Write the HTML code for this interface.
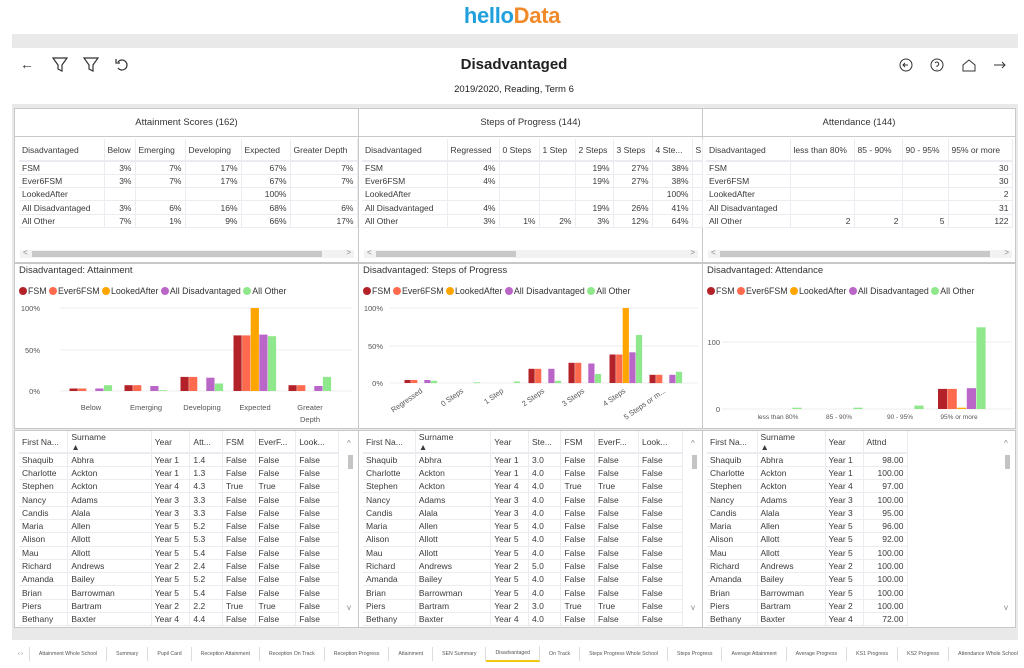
<!DOCTYPE html>
<html><head><meta charset="utf-8">
<style>
*{margin:0;padding:0;box-sizing:border-box}
body{width:1024px;height:668px;background:#fff;font-family:"Liberation Sans",sans-serif;color:#333;position:relative;overflow:hidden}
.abs{position:absolute}
.panel{position:absolute;background:#fff;border:1px solid #c8c8c8}
table{border-collapse:collapse;table-layout:fixed;font-size:8.5px;color:#3a3a3a}
td{height:13.3px;padding:0 3px;white-space:nowrap;overflow:hidden;border-bottom:1px solid #ebebf1;border-right:1px solid #ebebf1}
td.r{text-align:right}
tr.h td{height:22px;border-bottom:2px solid #ebebf1}
.sb{position:absolute;height:8px;background:#f2f2f2}
.sb div{position:absolute;top:1px;height:6px;background:#c8c8c8}
.sb span{position:absolute;top:-2px;font-size:8px;color:#888}
.ct{font-size:9.5px;color:#333}
.lg{font-size:8.8px;color:#333;white-space:nowrap}
.lg i{display:inline-block;width:8px;height:8px;border-radius:50%;margin:0 1px -1px 0}
.tabs{position:absolute;left:12px;top:646px;width:1006px;height:16px;display:flex;font-size:5.2px;color:#555;align-items:center;white-space:nowrap;overflow:hidden}
.tabs span{padding:0 9px;border-right:1px solid #ddd;line-height:14px}
.arr{position:absolute;font-size:8px;color:#888}
</style></head><body>
<div class="abs" style="left:0;top:3px;width:1024px;text-align:center;font-size:22px;font-weight:bold;letter-spacing:-0.3px"><span style="color:#1fa0dd">hello</span><span style="color:#f08a2a">Data</span></div>
<div class="abs" style="left:12px;top:34px;width:1006px;height:606px;background:#e9e9e9"></div>
<div class="abs" style="left:12px;top:48px;width:1006px;height:56px;background:#fff"></div>
<div class="abs" style="left:20px;top:56px;font-size:14px">&#8592;</div>
<svg class="abs" style="left:50px;top:56px" width="100" height="18"><g fill="none" stroke="#333" stroke-width="1.2"><path d="M3 2h14l-5 7v6l-4-2v-4z"/><path d="M34 2h14l-5 7v6l-4-2v-4z"/><path d="M68 6a5 5 0 1 1 0 6" /><path d="M66 3v4h4"/></g></svg>
<div class="abs" style="left:0;top:56px;width:1028px;text-align:center;font-size:15px;font-weight:bold;color:#222">Disadvantaged</div>
<div class="abs" style="left:0;top:84px;width:1028px;text-align:center;font-size:9.5px;color:#222">2019/2020, Reading, Term 6</div>
<svg class="abs" style="left:895px;top:56px" width="120" height="18"><g fill="none" stroke="#333" stroke-width="1"><circle cx="11" cy="9" r="6"/><path d="M13 9h-5m2-2-2 2 2 2"/><circle cx="42" cy="9" r="6"/><path d="M40 7a2 2 0 1 1 2 3v1m0 2v.5"/><path d="M68 9l6-5 6 5v6h-12z"/><path d="M99 9h11m-3-3 3 3-3 3"/></g></svg>

<!-- top panels -->
<div class="panel" style="left:14px;top:108px;width:345px;height:155px"></div>
<div class="panel" style="left:358px;top:108px;width:345px;height:155px"></div>
<div class="panel" style="left:702px;top:108px;width:314px;height:155px"></div>
<div class="abs" style="left:14px;top:136px;width:1002px;height:1px;background:#c8c8c8"></div>
<div class="abs ct" style="left:14px;top:117px;width:345px;text-align:center">Attainment Scores (162)</div>
<div class="abs ct" style="left:358px;top:117px;width:345px;text-align:center">Steps of Progress (144)</div>
<div class="abs ct" style="left:702px;top:117px;width:314px;text-align:center">Attendance (144)</div>

<table class="abs" style="left:19px;top:139px;width:338px">
<colgroup><col style="width:85px"><col style="width:31px"><col style="width:50px"><col style="width:56px"><col style="width:49px"><col style="width:67px"></colgroup>
<tr class="h"><td>Disadvantaged</td><td>Below</td><td>Emerging</td><td>Developing</td><td>Expected</td><td>Greater Depth</td></tr>
<tr><td>FSM</td><td class="r">3%</td><td class="r">7%</td><td class="r">17%</td><td class="r">67%</td><td class="r">7%</td></tr>
<tr><td>Ever6FSM</td><td class="r">3%</td><td class="r">7%</td><td class="r">17%</td><td class="r">67%</td><td class="r">7%</td></tr>
<tr><td>LookedAfter</td><td></td><td></td><td></td><td class="r">100%</td><td></td></tr>
<tr><td>All Disadvantaged</td><td class="r">3%</td><td class="r">6%</td><td class="r">16%</td><td class="r">68%</td><td class="r">6%</td></tr>
<tr><td>All Other</td><td class="r">7%</td><td class="r">1%</td><td class="r">9%</td><td class="r">66%</td><td class="r">17%</td></tr>
</table>
<div class="sb" style="left:20px;top:250px;width:334px"><span style="left:3px">&lt;</span><div style="left:12px;width:290px"></div><span style="right:3px">&gt;</span></div>

<table class="abs" style="left:362px;top:139px;width:340px">
<colgroup><col style="width:85px"><col style="width:52px"><col style="width:40px"><col style="width:36px"><col style="width:38px"><col style="width:39px"><col style="width:40px"><col style="width:10px"></colgroup>
<tr class="h"><td>Disadvantaged</td><td>Regressed</td><td>0 Steps</td><td>1 Step</td><td>2 Steps</td><td>3 Steps</td><td>4 Ste...</td><td>S</td></tr>
<tr><td>FSM</td><td class="r">4%</td><td></td><td></td><td class="r">19%</td><td class="r">27%</td><td class="r">38%</td><td></td></tr>
<tr><td>Ever6FSM</td><td class="r">4%</td><td></td><td></td><td class="r">19%</td><td class="r">27%</td><td class="r">38%</td><td></td></tr>
<tr><td>LookedAfter</td><td></td><td></td><td></td><td></td><td></td><td class="r">100%</td><td></td></tr>
<tr><td>All Disadvantaged</td><td class="r">4%</td><td></td><td></td><td class="r">19%</td><td class="r">26%</td><td class="r">41%</td><td></td></tr>
<tr><td>All Other</td><td class="r">3%</td><td class="r">1%</td><td class="r">2%</td><td class="r">3%</td><td class="r">12%</td><td class="r">64%</td><td></td></tr>
</table>
<div class="sb" style="left:364px;top:250px;width:334px"><span style="left:3px">&lt;</span><div style="left:12px;width:140px"></div><span style="right:3px">&gt;</span></div>

<table class="abs" style="left:706px;top:139px;width:306px">
<colgroup><col style="width:84px"><col style="width:64px"><col style="width:48px"><col style="width:46px"><col style="width:64px"></colgroup>
<tr class="h"><td>Disadvantaged</td><td>less than 80%</td><td>85 - 90%</td><td>90 - 95%</td><td>95% or more</td></tr>
<tr><td>FSM</td><td></td><td></td><td></td><td class="r">30</td></tr>
<tr><td>Ever6FSM</td><td></td><td></td><td></td><td class="r">30</td></tr>
<tr><td>LookedAfter</td><td></td><td></td><td></td><td class="r">2</td></tr>
<tr><td>All Disadvantaged</td><td></td><td></td><td></td><td class="r">31</td></tr>
<tr><td>All Other</td><td class="r">2</td><td class="r">2</td><td class="r">5</td><td class="r">122</td></tr>
</table>
<div class="sb" style="left:708px;top:250px;width:304px"><span style="left:3px">&lt;</span><div style="left:12px;width:270px"></div><span style="right:3px">&gt;</span></div>

<!-- charts -->
<div class="panel" style="left:14px;top:263px;width:345px;height:166px"></div>
<div class="panel" style="left:358px;top:263px;width:345px;height:166px"></div>
<div class="panel" style="left:702px;top:263px;width:314px;height:166px"></div>
<div class="abs ct" style="left:19px;top:265px">Disadvantaged: Attainment</div>
<div class="abs ct" style="left:363px;top:265px">Disadvantaged: Steps of Progress</div>
<div class="abs ct" style="left:707px;top:265px">Disadvantaged: Attendance</div>
<div class="abs lg" style="left:19px;top:286px"><i style="background:#b22228"></i>FSM <i style="background:#fe6a4e"></i>Ever6FSM <i style="background:#ffa500"></i>LookedAfter <i style="background:#ba66c8"></i>All Disadvantaged <i style="background:#8fe88c"></i>All Other</div>
<div class="abs lg" style="left:363px;top:286px"><i style="background:#b22228"></i>FSM <i style="background:#fe6a4e"></i>Ever6FSM <i style="background:#ffa500"></i>LookedAfter <i style="background:#ba66c8"></i>All Disadvantaged <i style="background:#8fe88c"></i>All Other</div>
<div class="abs lg" style="left:707px;top:286px"><i style="background:#b22228"></i>FSM <i style="background:#fe6a4e"></i>Ever6FSM <i style="background:#ffa500"></i>LookedAfter <i style="background:#ba66c8"></i>All Disadvantaged <i style="background:#8fe88c"></i>All Other</div>

<svg id="ch" class="abs" style="left:0;top:0" width="1024" height="668" font-family="Liberation Sans, sans-serif" font-size="7.5" fill="#555">
<g stroke="#ececec"><line x1="60" y1="308" x2="352" y2="308"/><line x1="60" y1="350" x2="352" y2="350"/><line x1="60" y1="391" x2="352" y2="391"/>
<line x1="390" y1="308" x2="698" y2="308"/><line x1="390" y1="346" x2="698" y2="346"/><line x1="390" y1="383" x2="698" y2="383"/>
<line x1="722" y1="342" x2="1012" y2="342"/><line x1="722" y1="409" x2="1012" y2="409"/></g>
<text x="40" y="311" text-anchor="end">100%</text><text x="40" y="353" text-anchor="end">50%</text><text x="40" y="394" text-anchor="end">0%</text>
<text x="91" y="410" text-anchor="middle">Below</text><text x="146" y="410" text-anchor="middle">Emerging</text><text x="202" y="410" text-anchor="middle">Developing</text><text x="255" y="410" text-anchor="middle">Expected</text><text x="310" y="410" text-anchor="middle">Greater</text><text x="310" y="422" text-anchor="middle">Depth</text>
<text x="383" y="311" text-anchor="end">100%</text><text x="383" y="349" text-anchor="end">50%</text><text x="383" y="386" text-anchor="end">0%</text>
<g text-anchor="end">
<text transform="translate(423,392) rotate(-35)">Regressed</text>
<text transform="translate(464,392) rotate(-35)">0 Steps</text>
<text transform="translate(504,392) rotate(-35)">1 Step</text>
<text transform="translate(545,392) rotate(-35)">2 Steps</text>
<text transform="translate(585,392) rotate(-35)">3 Steps</text>
<text transform="translate(626,392) rotate(-35)">4 Steps</text>
<text transform="translate(666,392) rotate(-35)">5 Steps or m...</text></g>
<text x="720" y="345" text-anchor="end">100</text><text x="720" y="412" text-anchor="end">0</text>
<g font-size="6.5"><text x="778" y="419" text-anchor="middle">less than 80%</text><text x="839" y="419" text-anchor="middle">85 - 90%</text><text x="900" y="419" text-anchor="middle">90 - 95%</text><text x="959" y="419" text-anchor="middle">95% or more</text></g>
<g id="bars"></g>
</svg>

<!-- bottom tables -->
<div class="panel" style="left:14px;top:430px;width:345px;height:198px;overflow:hidden">
<table style="position:absolute;left:4px;top:0;width:320px">
<colgroup><col style="width:48px"><col style="width:82px"><col style="width:38px"><col style="width:32px"><col style="width:32px"><col style="width:40px"><col style="width:42px"></colgroup>
<tr class="h"><td>First Na...</td><td>Surname<br>&#9650;</td><td>Year</td><td>Att...</td><td>FSM</td><td>EverF...</td><td>Look...</td></tr>
<tr><td>Shaquib</td><td>Abhra</td><td>Year 1</td><td>1.4</td><td>False</td><td>False</td><td>False</td></tr>
<tr><td>Charlotte</td><td>Ackton</td><td>Year 1</td><td>1.3</td><td>False</td><td>False</td><td>False</td></tr>
<tr><td>Stephen</td><td>Ackton</td><td>Year 4</td><td>4.3</td><td>True</td><td>True</td><td>False</td></tr>
<tr><td>Nancy</td><td>Adams</td><td>Year 3</td><td>3.3</td><td>False</td><td>False</td><td>False</td></tr>
<tr><td>Candis</td><td>Alala</td><td>Year 3</td><td>3.3</td><td>False</td><td>False</td><td>False</td></tr>
<tr><td>Maria</td><td>Allen</td><td>Year 5</td><td>5.2</td><td>False</td><td>False</td><td>False</td></tr>
<tr><td>Alison</td><td>Allott</td><td>Year 5</td><td>5.3</td><td>False</td><td>False</td><td>False</td></tr>
<tr><td>Mau</td><td>Allott</td><td>Year 5</td><td>5.4</td><td>False</td><td>False</td><td>False</td></tr>
<tr><td>Richard</td><td>Andrews</td><td>Year 2</td><td>2.4</td><td>False</td><td>False</td><td>False</td></tr>
<tr><td>Amanda</td><td>Bailey</td><td>Year 5</td><td>5.2</td><td>False</td><td>False</td><td>False</td></tr>
<tr><td>Brian</td><td>Barrowman</td><td>Year 5</td><td>5.4</td><td>False</td><td>False</td><td>False</td></tr>
<tr><td>Piers</td><td>Bartram</td><td>Year 2</td><td>2.2</td><td>True</td><td>True</td><td>False</td></tr>
<tr><td>Bethany</td><td>Baxter</td><td>Year 4</td><td>4.4</td><td>False</td><td>False</td><td>False</td></tr>
</table>
<span class="arr" style="left:332px;top:8px">^</span>
<div style="position:absolute;left:333px;top:24px;width:5px;height:14px;background:#c4c4c4"></div>
<span class="arr" style="left:332px;top:172px">v</span>
</div>

<div class="panel" style="left:358px;top:430px;width:345px;height:198px;overflow:hidden">
<table style="position:absolute;left:4px;top:0;width:320px">
<colgroup><col style="width:50px"><col style="width:72px"><col style="width:36px"><col style="width:31px"><col style="width:32px"><col style="width:42px"><col style="width:42px"></colgroup>
<tr class="h"><td>First Na...</td><td>Surname<br>&#9650;</td><td>Year</td><td>Ste...</td><td>FSM</td><td>EverF...</td><td>Look...</td></tr>
<tr><td>Shaquib</td><td>Abhra</td><td>Year 1</td><td>3.0</td><td>False</td><td>False</td><td>False</td></tr>
<tr><td>Charlotte</td><td>Ackton</td><td>Year 1</td><td>4.0</td><td>False</td><td>False</td><td>False</td></tr>
<tr><td>Stephen</td><td>Ackton</td><td>Year 4</td><td>4.0</td><td>True</td><td>True</td><td>False</td></tr>
<tr><td>Nancy</td><td>Adams</td><td>Year 3</td><td>4.0</td><td>False</td><td>False</td><td>False</td></tr>
<tr><td>Candis</td><td>Alala</td><td>Year 3</td><td>4.0</td><td>False</td><td>False</td><td>False</td></tr>
<tr><td>Maria</td><td>Allen</td><td>Year 5</td><td>4.0</td><td>False</td><td>False</td><td>False</td></tr>
<tr><td>Alison</td><td>Allott</td><td>Year 5</td><td>4.0</td><td>False</td><td>False</td><td>False</td></tr>
<tr><td>Mau</td><td>Allott</td><td>Year 5</td><td>4.0</td><td>False</td><td>False</td><td>False</td></tr>
<tr><td>Richard</td><td>Andrews</td><td>Year 2</td><td>5.0</td><td>False</td><td>False</td><td>False</td></tr>
<tr><td>Amanda</td><td>Bailey</td><td>Year 5</td><td>4.0</td><td>False</td><td>False</td><td>False</td></tr>
<tr><td>Brian</td><td>Barrowman</td><td>Year 5</td><td>4.0</td><td>False</td><td>False</td><td>False</td></tr>
<tr><td>Piers</td><td>Bartram</td><td>Year 2</td><td>3.0</td><td>True</td><td>True</td><td>False</td></tr>
<tr><td>Bethany</td><td>Baxter</td><td>Year 4</td><td>4.0</td><td>False</td><td>False</td><td>False</td></tr>
</table>
<span class="arr" style="left:332px;top:8px">^</span>
<div style="position:absolute;left:333px;top:24px;width:5px;height:14px;background:#c4c4c4"></div>
<span class="arr" style="left:332px;top:172px">v</span>
</div>

<div class="panel" style="left:702px;top:430px;width:314px;height:198px;overflow:hidden">
<table style="position:absolute;left:4px;top:0;width:200px">
<colgroup><col style="width:50px"><col style="width:68px"><col style="width:38px"><col style="width:44px"></colgroup>
<tr class="h"><td>First Na...</td><td>Surname<br>&#9650;</td><td>Year</td><td>Attnd</td></tr>
<tr><td>Shaquib</td><td>Abhra</td><td>Year 1</td><td class="r">98.00</td></tr>
<tr><td>Charlotte</td><td>Ackton</td><td>Year 1</td><td class="r">100.00</td></tr>
<tr><td>Stephen</td><td>Ackton</td><td>Year 4</td><td class="r">97.00</td></tr>
<tr><td>Nancy</td><td>Adams</td><td>Year 3</td><td class="r">100.00</td></tr>
<tr><td>Candis</td><td>Alala</td><td>Year 3</td><td class="r">95.00</td></tr>
<tr><td>Maria</td><td>Allen</td><td>Year 5</td><td class="r">96.00</td></tr>
<tr><td>Alison</td><td>Allott</td><td>Year 5</td><td class="r">92.00</td></tr>
<tr><td>Mau</td><td>Allott</td><td>Year 5</td><td class="r">100.00</td></tr>
<tr><td>Richard</td><td>Andrews</td><td>Year 2</td><td class="r">100.00</td></tr>
<tr><td>Amanda</td><td>Bailey</td><td>Year 5</td><td class="r">100.00</td></tr>
<tr><td>Brian</td><td>Barrowman</td><td>Year 5</td><td class="r">100.00</td></tr>
<tr><td>Piers</td><td>Bartram</td><td>Year 2</td><td class="r">100.00</td></tr>
<tr><td>Bethany</td><td>Baxter</td><td>Year 4</td><td class="r">72.00</td></tr>
</table>
<span class="arr" style="left:301px;top:8px">^</span>
<div style="position:absolute;left:302px;top:24px;width:5px;height:14px;background:#c4c4c4"></div>
<span class="arr" style="left:301px;top:172px">v</span>
</div>

<div class="tabs"><span style="padding:0 6px">&#8249; &#8250;</span><span>Attainment Whole School</span><span>Summary</span><span>Pupil Card</span><span>Reception Attainment</span><span>Reception On Track</span><span>Reception Progress</span><span>Attainment</span><span>SEN Summary</span><span style="background:#fff;border-bottom:2px solid #f2c811">Disadvantaged</span><span>On Track</span><span>Steps Progress Whole School</span><span>Steps Progress</span><span>Average Attainment</span><span>Average Progress</span><span>KS1 Progress</span><span>KS2 Progress</span><span>Attendance Whole School</span></div>

<script>
var C=["#b22228","#fe6a4e","#ffa500","#ba66c8","#8fe88c"];
var g=document.getElementById("bars"),h="";
function draw(cx,base,sc,w,data){for(var i=0;i<cx.length;i++){var x0=cx[i]-2.5*w;for(var s=0;s<5;s++){var v=data[s][i];if(!v)continue;var hh=v*sc;h+='<rect x="'+(x0+s*w).toFixed(1)+'" y="'+(base-hh).toFixed(1)+'" width="'+(w-0.4)+'" height="'+hh.toFixed(1)+'" fill="'+C[s]+'"/>';}}}
draw([91,146,202,255,310],391,0.83,8.6,[[3,7,17,67,7],[3,7,17,67,7],[0,0,0,100,0],[3,6,16,68,6],[7,1,9,66,17]]);
draw([421,464,504,545,585,626,666],383,0.75,6.6,[[4,0,0,19,27,38,11],[4,0,0,19,27,38,11],[0,0,0,0,0,100,0],[4,0,0,19,26,41,11],[3,1,2,3,12,64,15]]);
draw([778,839,900,962],409,0.67,9.6,[[0,0,0,30],[0,0,0,30],[0,0,0,2],[0,0,0,31],[2,2,5,122]]);
g.innerHTML=h;
</script>
</body></html>
